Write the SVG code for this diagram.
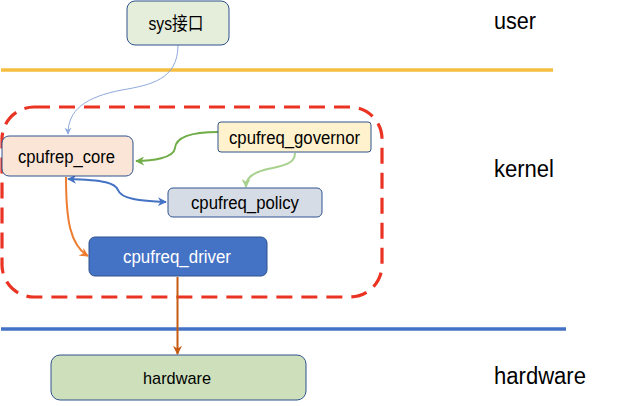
<svg xmlns="http://www.w3.org/2000/svg" width="621" height="406" viewBox="0 0 621 406">
<style>
text{font-family:"Liberation Sans","Noto Sans CJK SC",sans-serif;fill:#000;text-anchor:middle}
.node{stroke:#2f528f;stroke-width:1}
.lbl{font-size:23px;text-anchor:start}
.t{font-size:18px}
.c{fill:none}
</style>
<defs>
<marker id="aBlueL" viewBox="0 0 10 10" refX="9" refY="5" markerWidth="7" markerHeight="7" orient="auto-start-reverse" markerUnits="userSpaceOnUse"><path d="M0,0 L10,5 L0,10 L3,5 z" fill="#8faadc"/></marker>
<marker id="aGreen" viewBox="0 0 10 10" refX="9" refY="5" markerWidth="9" markerHeight="9" orient="auto-start-reverse" markerUnits="userSpaceOnUse"><path d="M0,0 L10,5 L0,10 L3,5 z" fill="#70ad47"/></marker>
<marker id="aLGreen" viewBox="0 0 10 10" refX="9" refY="5" markerWidth="9" markerHeight="9" orient="auto-start-reverse" markerUnits="userSpaceOnUse"><path d="M0,0 L10,5 L0,10 L3,5 z" fill="#a9d18e"/></marker>
<marker id="aBlue" viewBox="0 0 10 10" refX="9" refY="5" markerWidth="9" markerHeight="9" orient="auto-start-reverse" markerUnits="userSpaceOnUse"><path d="M0,0 L10,5 L0,10 L3,5 z" fill="#4472c4"/></marker>
<marker id="aOrange" viewBox="0 0 10 10" refX="9" refY="5" markerWidth="9" markerHeight="9" orient="auto-start-reverse" markerUnits="userSpaceOnUse"><path d="M0,0 L10,5 L0,10 L3,5 z" fill="#ed7d31"/></marker>
<marker id="aBrown" viewBox="0 0 10 10" refX="9" refY="5" markerWidth="9" markerHeight="9" orient="auto-start-reverse" markerUnits="userSpaceOnUse"><path d="M0,0 L10,5 L0,10 L3,5 z" fill="#c55a11"/></marker>
</defs>

<g id="layers">
<line x1="1" y1="70" x2="553" y2="70" stroke="#f6be41" stroke-width="3.5"/>
<line x1="1" y1="329" x2="566" y2="329" stroke="#4472c4" stroke-width="3.5"/>
<text class="lbl" x="494" y="29" textLength="42" lengthAdjust="spacingAndGlyphs">user</text>
<text class="lbl" x="494" y="177" textLength="60" lengthAdjust="spacingAndGlyphs">kernel</text>
<text class="lbl" x="494" y="384" textLength="92" lengthAdjust="spacingAndGlyphs">hardware</text>
</g>

<g id="kernel-boundary">
<rect x="2" y="107" width="380" height="190" rx="32" fill="none" stroke="#ea3323" stroke-width="3.2" stroke-dasharray="16 9"/>
</g>

<g id="connectors">
<path class="c" d="M178,45 C178,80 150,85 122,90 C85,97 68,110 68,134" stroke="#8faadc" stroke-width="1" marker-end="url(#aBlueL)"/>
<path class="c" d="M218,132 C190,132 176,138 175,148 C174,158 152,161 136,161" stroke="#70ad47" stroke-width="2" marker-end="url(#aGreen)"/>
<path class="c" d="M295,153 C295,168 272,166 258,172 C249,176 246,180 246,187" stroke="#a9d18e" stroke-width="2" marker-end="url(#aLGreen)"/>
<path class="c" d="M68,179 C105,180 115,183 118,190 C121,199 140,201 166,202" stroke="#4472c4" stroke-width="2" marker-start="url(#aBlue)" marker-end="url(#aBlue)"/>
<path class="c" d="M66,177 C66,220 70,245 88,256" stroke="#ed7d31" stroke-width="2" marker-end="url(#aOrange)"/>
<path class="c" d="M177.5,277 L177.5,354" stroke="#c55a11" stroke-width="2" marker-end="url(#aBrown)"/>
</g>

<g id="sys">
<rect class="node" x="127" y="1" width="102" height="44" rx="8" fill="#e4eedb"/>
<text class="t" x="176" y="30" textLength="55" lengthAdjust="spacingAndGlyphs">sys接口</text>
</g>

<g id="cpufrep_core">
<rect class="node" x="2" y="136" width="131" height="40" rx="7" fill="#fbe5d6"/>
<text class="t" x="66.5" y="163" textLength="97" lengthAdjust="spacingAndGlyphs">cpufrep_core</text>
</g>

<g id="cpufreq_governor">
<rect class="node" x="218" y="122" width="153" height="30" rx="3" fill="#fff2cc"/>
<text class="t" x="294.5" y="144" textLength="131" lengthAdjust="spacingAndGlyphs">cpufreq_governor</text>
</g>

<g id="cpufreq_policy">
<rect class="node" x="168" y="188" width="154" height="29" rx="5" fill="#d6dce5"/>
<text class="t" x="245" y="209" textLength="108" lengthAdjust="spacingAndGlyphs">cpufreq_policy</text>
</g>

<g id="cpufreq_driver">
<rect class="node" x="89" y="237" width="178" height="39" rx="6" fill="#4472c4"/>
<text class="t" x="177" y="263" textLength="108" lengthAdjust="spacingAndGlyphs" style="fill:#fff">cpufreq_driver</text>
</g>

<g id="hardware">
<rect class="node" x="51" y="355" width="255" height="45" rx="9" fill="#cde0bb"/>
<text x="177" y="384" textLength="68" lengthAdjust="spacingAndGlyphs" style="font-size:17px">hardware</text>
</g>
</svg>
